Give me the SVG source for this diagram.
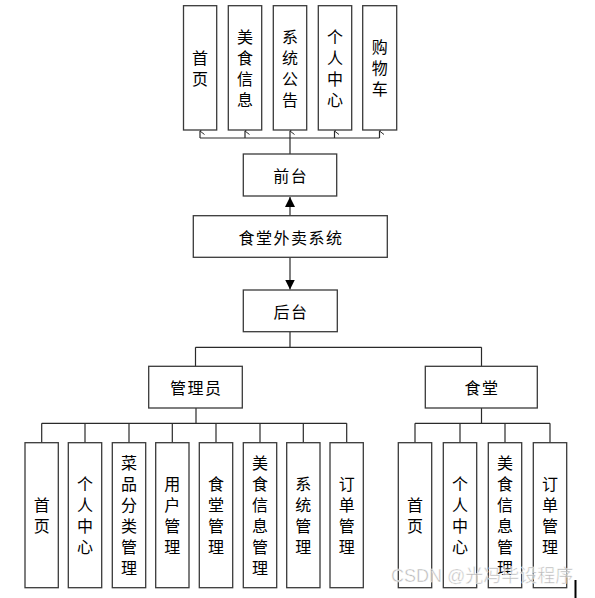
<svg xmlns="http://www.w3.org/2000/svg" width="595" height="598" viewBox="0 0 595 598">
<defs>
<style>
.box{fill:#fff;stroke:#3a3a3a;stroke-width:1.3}
.ln{fill:none;stroke:#2a2a2a;stroke-width:1.2}
.t{font-family:"Noto Sans CJK SC","Noto Sans",sans-serif;font-size:16px;fill:#000;text-anchor:middle;dominant-baseline:central}
.h{letter-spacing:1.5px}
.v{font-family:"Noto Sans CJK SC","Noto Sans",sans-serif;font-size:16px;fill:#000;text-anchor:middle;writing-mode:vertical-rl;letter-spacing:5px}
.wm{font-family:"Liberation Sans","Noto Sans CJK SC",sans-serif;font-size:18px;fill:#b0b0b0;stroke:#fff;stroke-width:0.5;opacity:0.9}
</style>
<marker id="open" viewBox="0 0 8 6" refX="4" refY="0.5" markerWidth="8" markerHeight="6" markerUnits="userSpaceOnUse" orient="auto-start-reverse">
<path d="M0.5,5 L4,0.5 L7.5,5" fill="none" stroke="#2a2a2a" stroke-width="1"/>
</marker>
<marker id="fill" viewBox="0 0 10 10" refX="10" refY="5" markerWidth="10" markerHeight="10" markerUnits="userSpaceOnUse" orient="auto">
<path d="M0,0 L10,5 L0,10 Z" fill="#000"/>
</marker>
</defs>

<g id="connectors">
<path class="ln" d="M290,154 V138 M200,138 H379.5"/>
<path class="ln" d="M200,138 V131" marker-end="url(#open)"/>
<path class="ln" d="M245,138 V131" marker-end="url(#open)"/>
<path class="ln" d="M290,138 V131" marker-end="url(#open)"/>
<path class="ln" d="M334.5,138 V131" marker-end="url(#open)"/>
<path class="ln" d="M379.5,138 V131" marker-end="url(#open)"/>
<path class="ln" d="M290,215.7 V197" marker-end="url(#fill)"/>
<path class="ln" d="M290,257.3 V289.5" marker-end="url(#fill)"/>
<path class="ln" d="M290,331.7 V347.3 M195.5,347.3 H481.5 M195.5,347.3 V366.3 M481.5,347.3 V366.3"/>
<path class="ln" d="M196,408 V423.3 M41.7,423.3 H346.7 M41.7,423.3 V442.7 M85,423.3 V442.7 M129,423.3 V442.7 M172.3,423.3 V442.7 M216,423.3 V442.7 M260,423.3 V442.7 M303.3,423.3 V442.7 M346.7,423.3 V442.7"/>
<path class="ln" d="M481.5,408 V423.3 M415,423.3 H550 M415,423.3 V442.7 M460,423.3 V442.7 M505,423.3 V442.7 M550,423.3 V442.7"/>
<path d="M575.5,580 V598" stroke="#000" stroke-width="2"/>
</g>

<g id="top-modules">
<g id="n-home"><rect class="box" x="183.5" y="5.7" width="33.2" height="124.3"/><text class="v" x="200" y="70.5">首页</text></g>
<g id="n-food"><rect class="box" x="228.3" y="5.7" width="33.4" height="124.3"/><text class="v" x="245" y="70.5">美食信息</text></g>
<g id="n-notice"><rect class="box" x="273.3" y="5.7" width="33.4" height="124.3"/><text class="v" x="290" y="70.5">系统公告</text></g>
<g id="n-center"><rect class="box" x="318.3" y="5.7" width="33.4" height="124.3"/><text class="v" x="335" y="70.5">个人中心</text></g>
<g id="n-cart"><rect class="box" x="362.7" y="5.7" width="34" height="124.3"/><text class="v" x="379.7" y="70.5">购物车</text></g>
</g>

<g id="n-front"><rect class="box" x="243.3" y="154" width="93.4" height="42"/><text class="t h" x="290.7" y="175">前台</text></g>
<g id="n-system"><rect class="box" x="193.3" y="215.7" width="194" height="41.6"/><text class="t h" x="291" y="236.5">食堂外卖系统</text></g>
<g id="n-back"><rect class="box" x="243.3" y="290" width="94" height="41.7"/><text class="t h" x="291" y="311">后台</text></g>
<g id="n-admin"><rect class="box" x="148.7" y="366.3" width="93.6" height="41.7"/><text class="t h" x="196.3" y="387">管理员</text></g>
<g id="n-canteen"><rect class="box" x="425.3" y="366.3" width="112" height="41.7"/><text class="t h" x="482" y="387">食堂</text></g>

<g id="admin-modules">
<g id="a1"><rect class="box" x="25" y="442.7" width="33.3" height="145"/><text class="v" x="41.7" y="517.5">首页</text></g>
<g id="a2"><rect class="box" x="68.3" y="442.7" width="33.4" height="145"/><text class="v" x="85" y="517.5">个人中心</text></g>
<g id="a3"><rect class="box" x="112.3" y="442.7" width="33.4" height="145"/><text class="v" x="129" y="517.5">菜品分类管理</text></g>
<g id="a4"><rect class="box" x="155.7" y="442.7" width="33.3" height="145"/><text class="v" x="172.3" y="517.5">用户管理</text></g>
<g id="a5"><rect class="box" x="199.3" y="442.7" width="33.4" height="145"/><text class="v" x="216" y="517.5">食堂管理</text></g>
<g id="a6"><rect class="box" x="243.3" y="442.7" width="33.4" height="145"/><text class="v" x="260" y="517.5">美食信息管理</text></g>
<g id="a7"><rect class="box" x="286.7" y="442.7" width="33.3" height="145"/><text class="v" x="303.3" y="517.5">系统管理</text></g>
<g id="a8"><rect class="box" x="330" y="442.7" width="33.3" height="145"/><text class="v" x="346.7" y="517.5">订单管理</text></g>
</g>

<g id="canteen-modules">
<g id="c1"><rect class="box" x="398.3" y="442.7" width="33.4" height="145"/><text class="v" x="415" y="517.5">首页</text></g>
<g id="c2"><rect class="box" x="443.3" y="442.7" width="33.4" height="145"/><text class="v" x="460" y="517.5">个人中心</text></g>
<g id="c3"><rect class="box" x="488.3" y="442.7" width="33.4" height="145"/><text class="v" x="505" y="517.5">美食信息管理</text></g>
<g id="c4"><rect class="box" x="533.3" y="442.7" width="33.4" height="145"/><text class="v" x="550" y="517.5">订单管理</text></g>
</g>

<text class="wm" x="391" y="582">CSDN @光冯毕设程序</text>
</svg>
